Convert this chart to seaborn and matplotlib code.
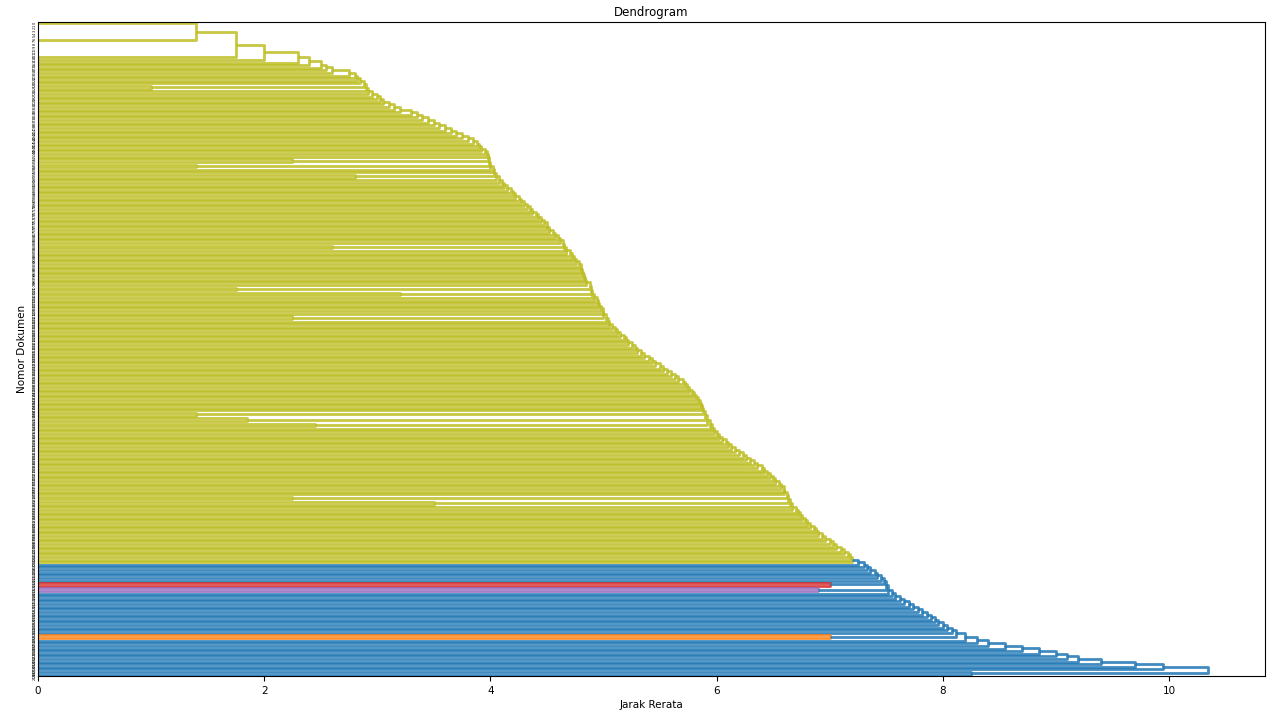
import numpy as np
import matplotlib
matplotlib.use("Agg")
import matplotlib.pyplot as plt
from matplotlib.collections import LineCollection
import seaborn as sns

pal = sns.color_palette("tab10")
YELLOW, BLUE, RED, PURPLE, ORANGE = pal[8], pal[0], pal[3], pal[4], pal[1]
THRESHOLD = 7.2

# chain of elements from top to bottom: (size, inner merge height, merge height into main cluster)
elem_size = [1, 12]
elem_inner = [0.0, 0.0]
chain_h = [0.0, 1.4]
elem_color = ["y", "y"]

def add(hs, size=1, inner=0.0, color="y"):
    for h in hs:
        elem_size.append(size); elem_inner.append(inner); chain_h.append(h); elem_color.append(color)

add([1.75, 2.0, 2.3, 2.4, 2.5, 2.55, 2.6, 2.75, 2.8, 2.82, 2.85])
add([2.88], 2, 1.0)
add([2.9, 2.92, 2.95, 3.0])
add([3.02, 3.05, 3.1, 3.15, 3.2, 3.3, 3.35, 3.4, 3.45, 3.5, 3.55, 3.6, 3.65, 3.7,
     3.75, 3.8, 3.85, 3.88, 3.9, 3.92, 3.95, 3.97])
add([3.98], 2, 2.25)
add([3.99], 2, 1.4)
add([4.0, 4.02])
add([4.03], 2, 2.8)
add([4.05, 4.08, 4.1])
add([4.12, 4.15, 4.18, 4.2, 4.22, 4.25, 4.27, 4.3, 4.32, 4.35, 4.37, 4.4, 4.42, 4.45,
     4.47, 4.5, 4.5, 4.52])
add([4.55, 4.57, 4.6, 4.62])
add([4.64], 2, 2.6)
add([4.65, 4.67, 4.7, 4.72, 4.74, 4.76, 4.78, 4.8, 4.8, 4.81, 4.82, 4.83, 4.84, 4.85])
add([4.88], 2, 1.75)
add([4.89], 2, 3.2)
add([4.9, 4.92, 4.94, 4.95, 4.96, 4.98, 5.0])
add([5.0], 2, 2.25)
add([5.02, 5.04])
add([5.05, 5.08, 5.1, 5.12, 5.15, 5.18, 5.2, 5.22, 5.25, 5.28, 5.3, 5.33, 5.36, 5.4,
     5.43, 5.46, 5.5, 5.53, 5.56, 5.6, 5.63, 5.66, 5.7, 5.72, 5.74, 5.76, 5.78, 5.8,
     5.82, 5.84, 5.85, 5.86, 5.87])
add([5.88], 2, 1.4)
add([5.9], 2, 1.85)
add([5.92], 2, 2.45)
add([5.94, 5.96, 5.98, 6.0, 6.02, 6.05, 6.08, 6.1, 6.13, 6.16, 6.2, 6.23, 6.26, 6.3,
     6.33, 6.36, 6.4, 6.42, 6.45, 6.47, 6.5, 6.52, 6.55, 6.57, 6.6, 6.6])
add([6.62], 2, 2.25)
add([6.63], 2, 3.5)
add([6.65, 6.67, 6.7, 6.72, 6.74, 6.76, 6.78, 6.8, 6.83, 6.86, 6.88, 6.9, 6.93, 6.96,
     7.0, 7.03, 7.06, 7.1, 7.13, 7.16, 7.18, 7.2])
add([7.25, 7.3, 7.33, 7.36, 7.4, 7.42, 7.45], color="b")
add([7.48], 2, 7.0, "r")
add([7.5], 2, 6.9, "p")
add([7.52, 7.55, 7.58, 7.62, 7.66, 7.7, 7.74, 7.78, 7.82, 7.86, 7.9, 7.93, 7.96, 8.0,
     8.04, 8.08], color="b")
add([8.12], 2, 7.0, "o")
add([8.2, 8.3, 8.4, 8.55, 8.7, 8.85, 9.0, 9.1, 9.2, 9.4, 9.7, 9.95], color="b")
add([10.35], 2, 8.25, "b")

cmap = {"y": YELLOW, "b": BLUE, "r": RED, "p": PURPLE, "o": ORANGE}

segs, cols = [], []
slot = 0
main_y, main_h = None, 0.0
for i, (s, inner, h, c) in enumerate(zip(elem_size, elem_inner, chain_h, elem_color)):
    ys = [slot + k + 0.5 for k in range(s)]
    slot += s
    if s == 1:
        ey, eh = ys[0], 0.0
    else:
        ey, eh = float(np.mean(ys)), inner
        ic = cmap[c] if inner <= THRESHOLD else BLUE
        if inner > 0:
            segs.append([(0, ys[0]), (inner, ys[0]), (inner, ys[-1]), (0, ys[-1])])
            cols.append(ic)
    if main_y is None:
        main_y, main_h = ey, eh
        continue
    lc = YELLOW if h <= THRESHOLD else BLUE
    segs.append([(main_h, main_y), (h, main_y), (h, ey), (eh, ey)])
    cols.append(lc)
    main_y, main_h = (main_y + ey) / 2, h

N = slot
fig = plt.figure(figsize=(12.72, 7.13), dpi=100)
ax = fig.add_axes([38 / 1272, 37 / 713, 1227 / 1272, 654 / 713])
ax.add_collection(LineCollection(segs, colors=cols, linewidths=2.0, alpha=0.85))
ax.set_xlim(0, 10.85)
ax.set_ylim(N, 0)
ax.set_yticks([k + 0.5 for k in range(N)])
ax.set_yticklabels([str(k) for k in range(N)], fontsize=2.5, rotation=90)
ax.tick_params(axis="y", length=0, pad=1)
ax.set_xticks([0, 2, 4, 6, 8, 10])
ax.tick_params(axis="x", labelsize=7.5)
ax.set_title("Dendrogram", fontsize=8.5, pad=4)
ax.set_xlabel("Jarak Rerata", fontsize=7.5, labelpad=3)
ax.set_ylabel("Nomor Dokumen", fontsize=7.5, labelpad=4)
fig.savefig("out.png", dpi=100)
